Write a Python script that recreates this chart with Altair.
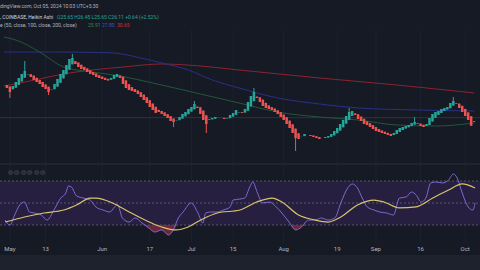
import altair as alt
import pandas as pd

# ---------------- data ----------------
# Heikin Ashi closes, one per day, starting Apr 30 (day -1 relative to May 1)
closes = [31.44, 30.80, 31.75, 32.38, 33.02, 33.65, 34.12, 33.65, 33.17, 32.70,
          32.38, 32.07, 31.59, 31.28, 30.80, 31.28, 32.07, 32.86, 33.65, 34.28,
          35.07, 36.02, 36.18, 35.23, 34.75, 34.44, 34.28, 33.96, 33.65, 33.49,
          33.17, 33.02, 32.86, 32.70, 32.62, 33.02, 33.49, 33.65, 33.02, 32.07,
          31.44, 31.12, 30.96, 30.80, 30.49, 30.01, 29.54, 29.07, 28.43, 27.96,
          27.49, 27.64, 27.33, 27.01, 26.70, 26.22, 26.06, 26.38, 26.85, 27.33,
          27.64, 28.12, 28.43, 28.91, 28.28, 27.33, 26.38, 25.75, 26.54, 26.70,
          26.85, 26.70, 26.72, 26.54, 26.70, 27.17, 27.49, 27.96, 27.64, 27.49,
          28.12, 29.22, 30.17, 30.80, 29.86, 29.22, 28.59, 28.28, 28.12, 27.96,
          27.64, 27.33, 26.85, 26.38, 25.75, 25.12, 24.33, 23.54, 23.38, 23.85,
          24.17, 24.01, 23.85, 23.69, 23.54, 23.38, 23.54, 23.69, 23.85, 24.17,
          24.64, 25.12, 25.75, 26.38, 27.01, 27.64, 27.80, 27.17, 26.54, 26.22,
          25.75, 25.59, 25.27, 24.96, 24.64, 24.48, 24.33, 24.17, 24.01, 23.85,
          24.33, 24.80, 25.12, 25.27, 25.43, 25.59, 25.91, 26.06, 25.75, 25.43,
          25.27, 25.75, 26.70, 27.33, 27.64, 27.80, 28.12, 28.28, 28.43, 29.07,
          29.38, 28.91, 28.28, 27.64, 27.01, 26.38, 25.47, 26.11]
first_day = -1
first_open = 31.9

# notable wicks (day offset from May 1, price)
high_wick_days = [5, 21, 62, 82, 114, 136, 149]
high_wick_vals = [35.70, 36.81, 29.38, 31.44, 28.28, 26.85, 30.01]
low_wick_days = [0, 13, 55, 66, 96]
low_wick_vals = [29.86, 30.33, 25.27, 24.33, 21.48]

# moving averages (day, price)
ma50_days = [-2, 2, 10, 18, 25, 35, 51, 64, 77, 90, 104, 117, 130, 143, 156]
ma50_vals = [39.49, 39.02, 37.12, 34.75, 34.12, 33.49, 31.91, 30.49, 29.07,
             27.64, 26.85, 26.38, 25.59, 25.43, 25.91]
ma100_days = [-2, 15, 31, 35, 44, 51, 60, 68, 77, 90, 104, 117, 137, 156]
ma100_vals = [37.12, 37.12, 37.04, 36.97, 36.18, 35.39, 34.28, 32.70, 31.44,
              29.86, 28.91, 28.28, 27.96, 27.80]
ma200_days = [-2, 5, 20, 38, 51, 64, 77, 104, 130, 156]
ma200_vals = [31.75, 32.38, 33.81, 34.75, 35.23, 34.91, 34.28, 33.02, 31.91, 30.65]
hline_price = 26.75

# RSI and its moving average (day, value)
rsi_days = [-1.6, 0, 1.6, 3.3, 4.9, 6.6, 8.2, 10.5, 12.5, 14.8, 17.1, 18.8, 19.7,
            20.7, 22.4, 24.7, 27.0, 28.9, 31.3, 33.6, 35.2, 36.2, 37.8, 40.1, 42.1,
            44.4, 46.7, 48.7, 51.0, 53.3, 54.9, 56.6, 58.2, 60.9, 63.2, 64.8, 65.8,
            67.4, 69.7, 71.7, 74.0, 75.0, 77.3, 78.9, 80.6, 81.6, 83.2, 84.9, 87.2,
            89.5, 91.4, 93.8, 96.1, 98.0, 100.3, 102.6, 104.6, 106.9, 109.2, 111.2,
            113.5, 115.1, 116.8, 118.4, 120.1, 122.4, 124.3, 126.6, 128.9, 130.9,
            133.2, 134.9, 136.5, 138.2, 139.8, 141.4, 143.1, 145.4, 147.4, 149.0,
            150.3, 152.0, 154.0, 155.6, 156.3]
rsi_vals = [34.5, 30.0, 39.1, 48.2, 50.9, 41.8, 40.9, 39.1, 34.5, 43.6, 54.5, 59.1,
            65.5, 64.5, 56.4, 54.5, 52.7, 46.4, 43.6, 41.8, 46.4, 48.2, 36.4, 32.7,
            36.4, 31.8, 27.3, 23.6, 25.5, 20.9, 25.5, 36.4, 41.8, 50.0, 40.9, 31.8,
            40.9, 41.8, 41.8, 43.6, 46.4, 52.7, 53.6, 54.5, 64.5, 69.1, 59.1, 50.0,
            50.9, 46.4, 40.9, 32.7, 25.5, 28.2, 34.5, 34.5, 36.4, 34.5, 36.4, 50.0,
            63.6, 67.3, 63.6, 54.5, 46.4, 43.6, 41.8, 40.9, 39.1, 54.5, 55.5, 60.0,
            57.3, 50.9, 54.5, 68.2, 69.1, 68.2, 70.9, 76.4, 72.7, 59.1, 46.4, 43.6,
            50.0]
rsima_days = [-1.6, 4.9, 11.5, 18.1, 22.4, 27.0, 28.9, 34.5, 40.1, 45.4, 51.0, 55.9,
              59.9, 64.1, 69.7, 77.3, 82.9, 88.2, 91.4, 97.0, 102.6, 106.9, 111.2,
              116.8, 122.4, 125.7, 130.9, 136.5, 142.1, 147.4, 152.0, 156.3]
rsima_vals = [32.7, 37.3, 40.9, 43.6, 48.2, 54.5, 54.5, 50.0, 41.8, 34.5, 28.2, 25.5,
              28.2, 34.5, 40.9, 43.6, 50.9, 54.5, 50.9, 39.1, 34.5, 32.7, 37.3, 48.2,
              52.7, 50.9, 45.5, 46.4, 54.5, 61.8, 67.3, 63.6]
rsi_levels = [70, 50, 30]

tick_days = [0, 12, 31, 47, 61, 75, 92, 110, 123, 138, 153]
tick_labels = ["May", "13", "Jun", "17", "Jul", "15", "Aug", "19", "Sep", "16", "Oct"]

# ---------------- tables ----------------
opens = [first_open]
for i in range(1, len(closes)):
    opens.append((opens[-1] + closes[i - 1]) / 2)  # Heikin Ashi open rule
days = [first_day + i for i in range(len(closes))]
hw = dict(zip(high_wick_days, high_wick_vals))
lw = dict(zip(low_wick_days, low_wick_vals))
candles = pd.DataFrame({
    "day": days,
    "open": opens,
    "close": closes,
})
candles["top"] = candles[["open", "close"]].max(axis=1)
candles["bot"] = candles[["open", "close"]].min(axis=1)
candles["high"] = [max(t, hw.get(d, t)) for d, t in zip(days, candles["top"])]
candles["low"] = [min(b, lw.get(d, b)) for d, b in zip(days, candles["bot"])]
candles["dir"] = ["up" if c >= o else "down" for o, c in zip(opens, closes)]

ma50 = pd.DataFrame({"day": ma50_days, "v": ma50_vals})
ma100 = pd.DataFrame({"day": ma100_days, "v": ma100_vals})
ma200 = pd.DataFrame({"day": ma200_days, "v": ma200_vals})
rsi = pd.DataFrame({"day": rsi_days, "v": rsi_vals})
rsima = pd.DataFrame({"day": rsima_days, "v": rsima_vals})
levels = pd.DataFrame({"lvl": rsi_levels})
ticks = pd.DataFrame({"day": tick_days, "label": tick_labels})
one = pd.DataFrame({"k": [0]})

# ---------------- scales ----------------
W, H = 480, 270
X = alt.Scale(domain=[-1.645, 156.29], range=[0, W], nice=False, zero=False)
P_LO, P_HI = 45.34 - 0.158 * H, 45.34
PY = alt.Scale(domain=[P_LO, P_HI], range=[H, 0], nice=False, zero=False)
RY = alt.Scale(domain=[0, 100], range=[258, 148], nice=False, zero=False)

BG = "#161a25"
UP, DOWN = "#26a69a", "#ef5350"
FONT = "Roboto"

def xq(f="day"):
    return alt.X(f"{f}:Q", scale=X, axis=None)

layers = []

# bottom strip
layers.append(alt.Chart(one).mark_rect(color="#1e222d").encode(
    x=alt.value(0), x2=alt.value(W), y=alt.value(255), y2=alt.value(H)))

# vertical grid
layers.append(alt.Chart(ticks).mark_rule(color="#1d2130", strokeWidth=1).encode(
    x=xq(), y=alt.value(30), y2=alt.value(243)))

# RSI band
layers.append(alt.Chart(one).mark_rect(color="#261f40").encode(
    x=alt.value(0), x2=alt.value(W),
    y=alt.YDatum(70, scale=RY, axis=None), y2=alt.Y2Datum(30)))

# pane separator
layers.append(alt.Chart(one).mark_rule(color="#2a2e39", strokeWidth=1).encode(
    x=alt.value(0), x2=alt.value(W), y=alt.value(164)))

# horizontal price line
layers.append(alt.Chart(one).mark_rule(color="#2c3536", strokeWidth=1).encode(
    x=alt.value(0), x2=alt.value(W),
    y=alt.YDatum(hline_price, scale=PY, axis=None)))

# moving averages
for df, col in [(ma200, "#8a2330"), (ma100, "#283088"), (ma50, "#23563b")]:
    layers.append(alt.Chart(df).mark_line(color=col, strokeWidth=1,
                                          interpolate="monotone").encode(
        x=xq(), y=alt.Y("v:Q", scale=PY, axis=None)))

color = alt.Color("dir:N", scale=alt.Scale(domain=["up", "down"], range=[UP, DOWN]),
                  legend=None)
# wicks
layers.append(alt.Chart(candles).mark_rule(strokeWidth=1).encode(
    x=xq(), y=alt.Y("low:Q", scale=PY, axis=None), y2="high:Q", color=color))
# bodies
layers.append(alt.Chart(candles).mark_bar(size=2.5).encode(
    x=xq(), y=alt.Y("bot:Q", scale=PY, axis=None), y2="top:Q", color=color))

# RSI levels
layers.append(alt.Chart(levels).mark_rule(color="#787b86", strokeWidth=1,
                                          strokeDash=[2, 2], opacity=0.6).encode(
    x=alt.value(0), x2=alt.value(W), y=alt.Y("lvl:Q", scale=RY, axis=None)))

# oversold fill
layers.append(alt.Chart(rsi).transform_calculate(lo="min(datum.v, 30)").mark_area(
    color="#8a2c42", opacity=0.75, interpolate="monotone").encode(
    x=xq(), y=alt.Y("lo:Q", scale=RY, axis=None), y2=alt.Y2Datum(30)))

# RSI + MA
layers.append(alt.Chart(rsi).mark_line(color="#7e6ad0", strokeWidth=1,
                                       interpolate="monotone").encode(
    x=xq(), y=alt.Y("v:Q", scale=RY, axis=None)))
layers.append(alt.Chart(rsima).mark_line(color="#d8c46a", strokeWidth=1.2,
                                         interpolate="monotone").encode(
    x=xq(), y=alt.Y("v:Q", scale=RY, axis=None)))

# time axis labels
layers.append(alt.Chart(ticks).mark_text(color="#b2b5be", fontSize=6, font=FONT,
                                         baseline="middle", align="center").encode(
    x=xq(), y=alt.value(249), text="label:N"))

# header texts
def txt(s, x, y, col, size=5):
    return alt.Chart(one).mark_text(text=s, color=col, fontSize=size, font=FONT,
                                    align="left", baseline="middle").encode(
        x=alt.value(x), y=alt.value(y))

layers += [
    txt("dingView.com, Oct 05, 2024 10:03 UTC+5:30", 0, 6, "#b2b5be"),
    txt(", COINBASE, Heikin Ashi", 0, 17, "#d1d4dc"),
    txt("O25.65  H26.45  L25.65  C26.11  +0.64 (+2.52%)", 57, 17, UP),
    txt("e (50, close, 100, close, 200, close)", 0, 25, "#b2b5be"),
    txt("25.91", 88, 25, "#2e8b4a"),
    txt("27.80", 102, 25, "#3f51d5"),
    txt("30.65", 117, 25, "#d03030"),
    txt("◎ ◎ ◎ ◎ ◎ ◎", 8, 172, "#6a6d78", 6),
]

chart = alt.layer(*layers).resolve_scale(y="independent", color="independent").properties(
    width=W, height=H, padding=0, autosize="none", background=BG
).configure_view(stroke=None)

chart.save("out.html", embed_options={"renderer": "svg", "actions": False})
